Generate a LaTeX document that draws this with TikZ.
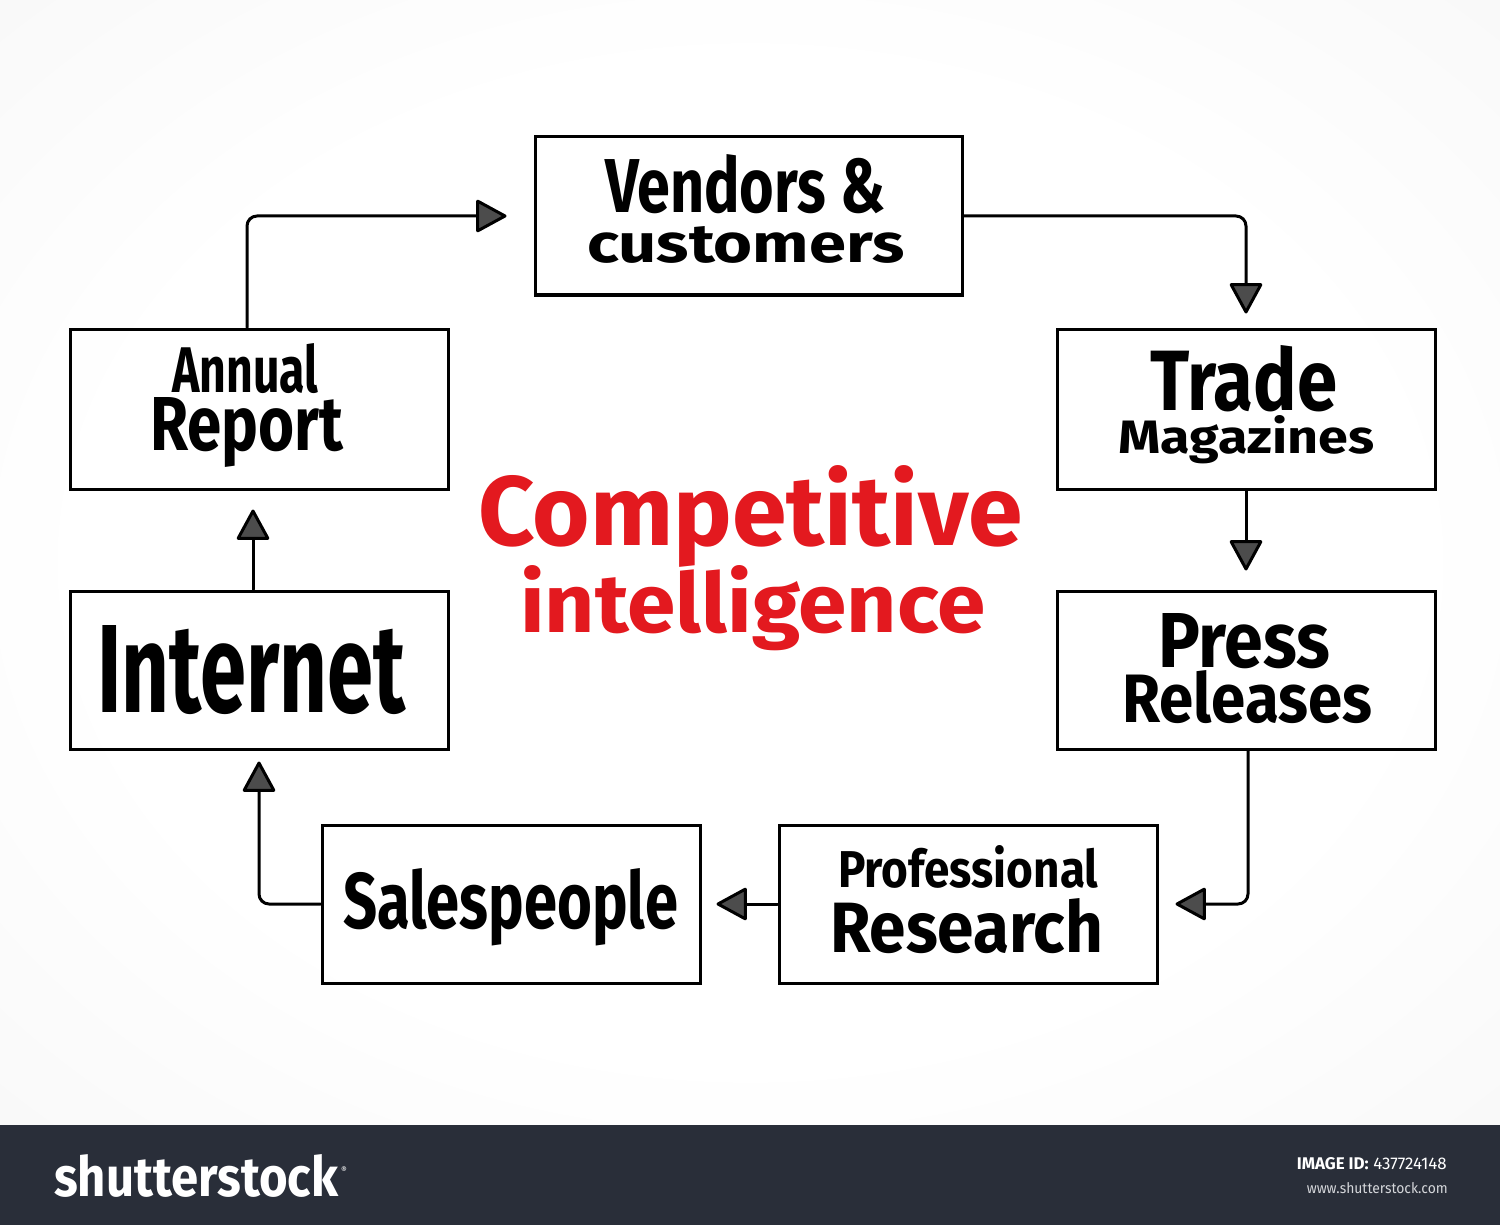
\documentclass[tikz,border=0pt]{standalone}
\usepackage{fontspec}
\setmainfont{Fira Sans}
\usepackage{graphicx}
\usetikzlibrary{arrows.meta}
\definecolor{cired}{HTML}{E3191F}
\definecolor{footbg}{HTML}{292E39}
\definecolor{urlgray}{HTML}{D4D6DA}
\pgfdeclareradialshading{bgshade}{\pgfpoint{0bp}{0bp}}{color(0bp)=(white); color(22bp)=(white); color(50bp)=(black!5); color(72bp)=(black!11)}
\newcommand{\fitw}[3]{\resizebox{#1pt}{#2pt}{#3}}
\begin{document}
\begin{tikzpicture}[x=1pt,y=-1pt,
  box/.style={draw=black, line width=3pt, inner sep=0pt, minimum height=158pt},
  lbl/.style={anchor=base west, inner sep=0pt, font=\bfseries, text=black},
  redlbl/.style={anchor=base west, inner sep=0pt, font=\bfseries, text=cired},
  flow/.style={draw=black, line width=3pt, rounded corners=10pt, line cap=round,
    -{Triangle[round, length=32pt, width=34pt, line width=3pt, fill=black!70]}}]
\useasboundingbox (0,0) rectangle (1500,1225);
\shade[shading=bgshade] (0,0) rectangle (1500,1125);
\fill[footbg] (0,1125) rectangle (1500,1225);

% boxes
\node[box, minimum width=427pt] (vendors) at (748.5,216) {};
\node[box, minimum width=378pt, minimum height=160pt] (trade) at (1246,409) {};
\node[box, minimum width=378pt] (press) at (1246,670) {};
\node[box, minimum width=378pt] (research) at (968,904) {};
\node[box, minimum width=378pt] (sales) at (511,904) {};
\node[box, minimum width=378pt] (internet) at (259,670) {};
\node[box, minimum width=378pt, minimum height=160pt] (annual) at (259,409) {};

% labels
\node[lbl] (vt1) at (605,213) {\fitw{280}{58}{Vendors \&}};
\node[lbl] (vt2) at (587,263) {\fitw{317}{36}{customers}};
\node[lbl] (tt1) at (1150,410) {\fitw{187}{65}{Trade}};
\node[lbl] (tt2) at (1118,453) {\fitw{256}{38}{Magazines}};
\node[lbl] (pt1) at (1158,667) {\fitw{172}{54}{Press}};
\node[lbl] (pt2) at (1122,722) {\fitw{250}{52}{Releases}};
\node[lbl] (rt1) at (838,887) {\fitw{260}{42}{Professional}};
\node[lbl] (rt2) at (830,952) {\fitw{273}{54}{Research}};
\node[lbl] (st1) at (343,928) {\fitw{335}{60}{Salespeople}};
\node[lbl] (it1) at (97,712) {\fitw{308}{87}{Internet}};
\node[lbl] (at1) at (172,392) {\fitw{146}{49}{Annual}};
\node[lbl] (at2) at (150,450) {\fitw{193}{53}{Report}};

% centre
\node[redlbl] (c1) at (478,545) {\fitw{544}{80}{Competitive}};
\node[redlbl] (c2) at (520,632) {\fitw{465}{67}{intelligence}};

% connectors
\draw[flow, shorten >=27pt] ([xshift=-12pt]annual.north) |- (vendors.west);
\draw[flow, shorten >=14pt] (vendors.east) -| (trade.north);
\draw[flow, shorten >=19pt] (trade.south) -- (press.north);
\draw[flow, shorten >=17pt] ([xshift=2pt]press.south) |- (research.east);
\draw[flow, shorten >=15pt] (research.west) -- (sales.east);
\draw[flow, shorten >=11pt] (sales.west) -| (internet.south);
\draw[flow, shorten >=19pt] ([xshift=-6pt]internet.north) -- ([xshift=-6pt]annual.south);

% footer
\node[anchor=base west, inner sep=0pt, text=white, font=\bfseries] (logo) at (54,1196) {\fitw{284}{42}{shutterstock}};
\node[anchor=west, inner sep=0pt, text=white, font=\fontsize{9}{9}\selectfont] (reg) at (341,1170) {®};
\node[anchor=base east, inner sep=0pt, text=white] (imgid) at (1447,1169) {\fitw{150}{12}{\textbf{IMAGE ID:} 437724148}};
\node[anchor=base east, inner sep=0pt, text=urlgray] (url) at (1448,1193) {\fitw{141}{11}{www.shutterstock.com}};
\end{tikzpicture}
\end{document}
